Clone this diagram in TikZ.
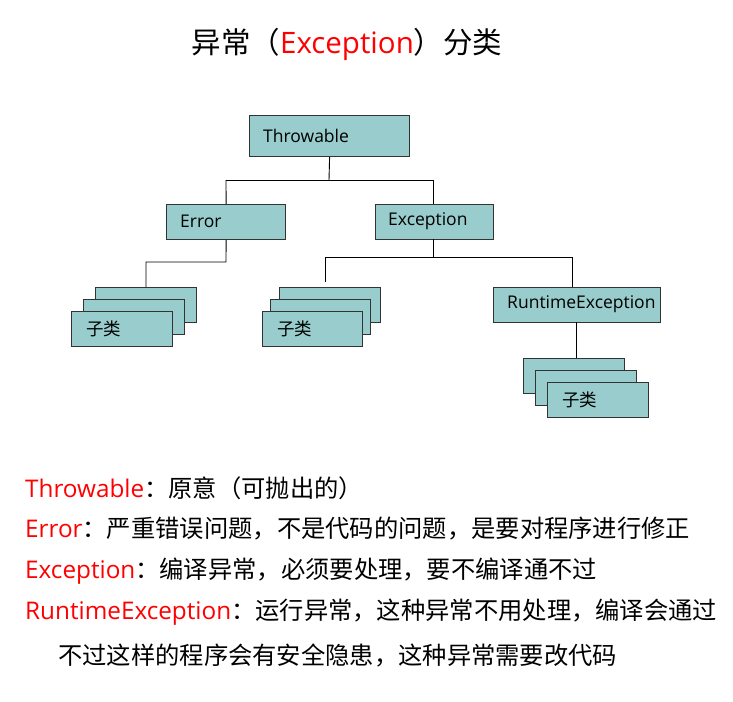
\documentclass[tikz,border=0pt]{standalone}
\usepackage{fontspec}
\setmainfont{Noto Sans CJK SC}
\newfontfamily\lat{Open Sans}
\definecolor{boxc}{HTML}{99CCCC}
\definecolor{edge}{HTML}{333333}
\tikzset{
  cls/.style={draw=edge,line width=1.2pt,fill=boxc,inner sep=0pt,anchor=north west},
  lbl/.style={anchor=west,font=\lat\fontsize{17.5}{20}\selectfont,inner sep=0pt},
  zl/.style={anchor=west,font=\fontsize{17.5}{20}\selectfont,inner sep=0pt},
  conn/.style={draw=black,line width=0.9pt},
  txt/.style={anchor=west,font=\fontsize{24.3}{28}\selectfont,inner sep=0pt},
  red/.style={text=red}
}
\newcommand{\bx}[5]{\node[cls,minimum width=#4pt-#2pt,minimum height=#5pt-#3pt] (#1) at (#2,#3) {};}
\begin{document}
\begin{tikzpicture}[x=1pt,y=-1pt]
\useasboundingbox (0,0) rectangle (733,701);
\node[font=\fontsize{29.5}{34}\selectfont] (title) at (347,44) {异常（{\lat\color{red}Exception}）分类};
\bx{thr}{249}{115}{409}{156}
\node[lbl] (thrl) at (263,135.5) {Throwable};
\bx{err}{166}{204}{285}{239}
\node[lbl] (errl) at (180,221.5) {Error};
\bx{exc}{375}{204}{493}{239}
\node[lbl] (excl) at (388,221.5) {Exception};
\bx{rte}{493}{287}{660}{322}
\node[lbl] (rtel) at (507,304.5) {RuntimeException};
% stacks
\bx{a1}{95}{287}{196}{322}\bx{a2}{83}{299}{184}{334}\bx{a3}{71}{311}{172}{346}
\node[zl] (a3l) at (86,328.5) {子类};
\bx{b1}{279}{287}{380}{322}\bx{b2}{270}{299}{370}{334}\bx{b3}{262}{311}{362}{346}
\node[zl] (b3l) at (277,328.5) {子类};
\bx{c1}{523}{358}{624}{393}\bx{c2}{535}{370}{636}{405}\bx{c3}{547}{382}{648}{417}
\node[zl] (c3l) at (562,399.5) {子类};
% connectors
\coordinate (j1) at (329,180);
\draw[conn] (thr.south) -- (j1);
\draw[conn] (226,180) -- (433,180);
\draw[conn] (226,180) -- (err.north);
\draw[conn] (433,180) -- (433,204);
\draw[conn] (err.south) -- (226,262) -- (146,262) -- (146,287);
\draw[conn] (433,239) -- (433,257);
\draw[conn] (325,282) -- (325,257) -- (572,257) -- (572,287);
\draw[conn] (576,322) -- (576,358);
% text
\node[txt] (t1) at (25,488) {{\lat\color{red}Throwable}：原意（可抛出的）};
\node[txt] (t2) at (25,529) {{\lat\color{red}Error}：严重错误问题，不是代码的问题，是要对程序进行修正};
\node[txt] (t3) at (25,571) {{\lat\color{red}Exception}：编译异常，必须要处理，要不编译通不过};
\node[txt] (t4) at (25,612) {{\lat\color{red}RuntimeException}：运行异常，这种异常不用处理，编译会通过};
\node[txt] (t5) at (58,655) {不过这样的程序会有安全隐患，这种异常需要改代码};
\end{tikzpicture}
\end{document}
